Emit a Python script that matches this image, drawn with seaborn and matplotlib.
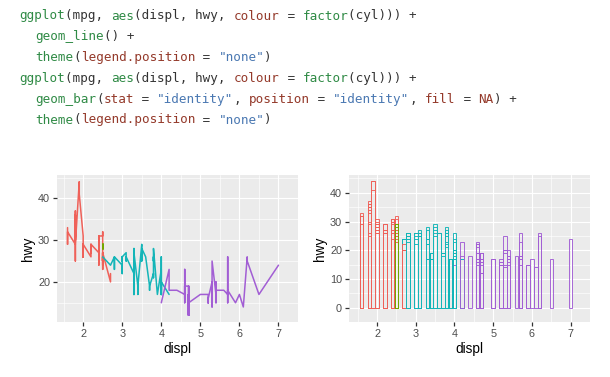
import numpy as np
import pandas as pd
import matplotlib
matplotlib.use("Agg")
import matplotlib.pyplot as plt
import seaborn as sns

# ---- data (ggplot2 mpg: displ, hwy, cyl in dataset order) ----
displ = [1.8, 1.8, 2.0, 2.0, 2.8, 2.8, 3.1, 1.8, 1.8, 2.0, 2.0, 2.8, 2.8, 3.1, 3.1, 2.8, 3.1, 4.2,
         5.3, 5.3, 5.3, 5.7, 6.0, 5.7, 5.7, 6.2, 6.2, 7.0, 5.3, 5.3, 5.7, 6.5, 2.4, 2.4, 3.1, 3.5, 3.6,
         2.4, 3.0, 3.3, 3.3, 3.3, 3.3, 3.3, 3.8, 3.8, 3.8, 4.0, 3.7, 3.7, 3.9, 3.9, 4.7, 4.7, 4.7, 5.2, 5.2,
         3.9, 4.7, 4.7, 4.7, 5.2, 5.7, 5.9, 4.7, 4.7, 4.7, 4.7, 4.7, 4.7, 5.2, 5.2, 5.7, 5.9,
         4.6, 5.4, 5.4, 4.0, 4.0, 4.0, 4.0, 4.6, 5.0, 4.2, 4.2, 4.6, 4.6, 4.6, 5.4, 5.4,
         3.8, 3.8, 4.0, 4.0, 4.6, 4.6, 4.6, 4.6, 5.4,
         1.6, 1.6, 1.6, 1.6, 1.6, 1.8, 1.8, 1.8, 2.0,
         2.4, 2.4, 2.4, 2.4, 2.5, 2.5, 3.3, 2.0, 2.0, 2.0, 2.0, 2.7, 2.7, 2.7,
         3.0, 3.7, 4.0, 4.7, 4.7, 4.7, 5.7, 6.1, 4.0, 4.2, 4.4, 4.6, 5.4, 5.4, 5.4, 4.0, 4.0, 4.6, 5.0,
         2.4, 2.4, 2.5, 2.5, 3.5, 3.5, 3.0, 3.0, 3.5, 3.3, 3.3, 4.0, 5.6, 3.1, 3.8, 3.8, 3.8, 5.3,
         2.5, 2.5, 2.5, 2.5, 2.5, 2.5, 2.2, 2.2, 2.5, 2.5, 2.5, 2.5, 2.5, 2.5,
         2.7, 2.7, 3.4, 3.4, 4.0, 4.7, 2.2, 2.2, 2.4, 2.4, 3.0, 3.0, 3.5, 2.2, 2.2, 2.4, 2.4, 3.0, 3.0, 3.3,
         1.8, 1.8, 1.8, 1.8, 1.8, 4.7, 5.7, 2.7, 2.7, 2.7, 3.4, 3.4, 4.0, 4.0,
         2.0, 2.0, 2.0, 2.0, 2.8, 1.9, 2.0, 2.0, 2.0, 2.0, 2.5, 2.5, 2.8, 2.8,
         1.9, 1.9, 2.0, 2.0, 2.5, 2.5, 1.8, 1.8, 2.0, 2.0, 2.8, 2.8, 3.6]
hwy = [29, 29, 31, 30, 26, 26, 27, 26, 25, 28, 27, 25, 25, 25, 25, 24, 25, 23,
       20, 15, 20, 17, 17, 26, 23, 26, 25, 24, 19, 14, 15, 17, 27, 30, 26, 29, 26,
       24, 24, 22, 22, 24, 24, 17, 22, 21, 23, 23, 19, 18, 17, 17, 19, 19, 12, 17, 15,
       17, 17, 12, 17, 16, 18, 15, 16, 12, 17, 17, 16, 12, 15, 16, 17, 15,
       17, 17, 18, 17, 19, 17, 19, 19, 17, 17, 17, 16, 16, 17, 15, 17,
       26, 25, 26, 24, 21, 22, 23, 22, 20,
       33, 32, 32, 29, 32, 34, 36, 36, 29,
       26, 27, 30, 31, 26, 26, 28, 26, 29, 28, 27, 24, 24, 24,
       22, 19, 20, 17, 12, 19, 18, 14, 15, 18, 18, 15, 17, 16, 18, 17, 19, 19, 17,
       29, 27, 31, 32, 27, 26, 26, 25, 25, 17, 17, 20, 18, 26, 26, 27, 28, 25,
       25, 24, 27, 25, 26, 23, 26, 26, 26, 25, 27, 25, 27, 27,
       20, 20, 19, 17, 20, 17, 29, 27, 31, 31, 26, 26, 28, 27, 29, 31, 31, 26, 26, 27,
       30, 33, 35, 37, 35, 15, 18, 20, 20, 22, 17, 19, 18, 20,
       29, 26, 29, 29, 24, 44, 29, 26, 29, 29, 29, 29, 23, 24,
       44, 41, 29, 26, 28, 29, 29, 29, 28, 29, 26, 26, 26]
cyl = [4, 4, 4, 4, 6, 6, 6, 4, 4, 4, 4, 6, 6, 6, 6, 6, 6, 8,
       8, 8, 8, 8, 8, 8, 8, 8, 8, 8, 8, 8, 8, 8, 4, 4, 6, 6, 6,
       4, 6, 6, 6, 6, 6, 6, 6, 6, 6, 6, 6, 6, 6, 6, 8, 8, 8, 8, 8,
       6, 8, 8, 8, 8, 8, 8, 8, 8, 8, 8, 8, 8, 8, 8, 8, 8,
       8, 8, 8, 6, 6, 6, 6, 8, 8, 6, 6, 8, 8, 8, 8, 8,
       6, 6, 6, 6, 8, 8, 8, 8, 8,
       4, 4, 4, 4, 4, 4, 4, 4, 4,
       4, 4, 4, 4, 6, 6, 6, 4, 4, 4, 4, 6, 6, 6,
       6, 6, 6, 8, 8, 8, 8, 8, 8, 8, 8, 8, 8, 8, 8, 6, 6, 8, 8,
       4, 4, 4, 4, 6, 6, 6, 6, 6, 6, 6, 6, 8, 6, 6, 6, 6, 8,
       4, 4, 4, 4, 4, 4, 4, 4, 4, 4, 4, 4, 4, 4,
       4, 4, 6, 6, 6, 8, 4, 4, 4, 4, 6, 6, 6, 4, 4, 4, 4, 6, 6, 6,
       4, 4, 4, 4, 4, 8, 8, 4, 4, 4, 6, 6, 6, 6,
       4, 4, 4, 4, 6, 4, 4, 4, 4, 4, 5, 5, 6, 6,
       4, 4, 4, 4, 5, 5, 4, 4, 4, 4, 6, 6, 6]

cyl_levels = ["4", "5", "6", "8"]
cyl_colors = ["#EF6159", "#74A600", "#14B5B8", "#A25ED4"]

x_ticks_left = [2, 3, 4, 5, 6, 7]
y_ticks_left = [20, 30, 40]
x_ticks_right = [2, 3, 4, 5, 6, 7]
y_ticks_right = [0, 10, 20, 30, 40]

code_lines = [
    [("ggplot", "g"), ("(mpg, ", "d"), ("aes", "g"), ("(displ, hwy, ", "d"), ("colour", "b"),
     (" = ", "d"), ("factor", "g"), ("(cyl))) +", "d")],
    [("  ", "d"), ("geom_line", "g"), ("() +", "d")],
    [("  ", "d"), ("theme", "g"), ("(", "d"), ("legend.position", "b"), (" = ", "d"),
     ('"none"', "s"), (")", "d")],
    [("ggplot", "g"), ("(mpg, ", "d"), ("aes", "g"), ("(displ, hwy, ", "d"), ("colour", "b"),
     (" = ", "d"), ("factor", "g"), ("(cyl))) +", "d")],
    [("  ", "d"), ("geom_bar", "g"), ("(", "d"), ("stat", "b"), (" = ", "d"), ('"identity"', "s"),
     (", ", "d"), ("position", "b"), (" = ", "d"), ('"identity"', "s"), (", ", "d"),
     ("fill", "b"), (" = ", "d"), ("NA", "b"), (") +", "d")],
    [("  ", "d"), ("theme", "g"), ("(", "d"), ("legend.position", "b"), (" = ", "d"),
     ('"none"', "s"), (")", "d")],
]
code_colors = {"g": "#2F8A45", "d": "#333333", "b": "#94392A", "s": "#4A78B2"}

# ---- figure ----
sns.set_theme(style="darkgrid")
plt.rcParams["font.family"] = ["Liberation Sans", "DejaVu Sans"]

W, H = 610, 377
fig = plt.figure(figsize=(W / 100, H / 100), dpi=100)
fig.patch.set_facecolor("white")

# code text (monospace grid)
char_w = 7.65
x0, base0, dy = 19.5, 19.5, 20.8
for i, line in enumerate(code_lines):
    col = 0
    for tok, c in line:
        if tok.strip():
            fig.text((x0 + col * char_w) / W, 1 - (base0 + i * dy) / H, tok,
                     family="DejaVu Sans Mono", fontsize=9.1, color=code_colors[c],
                     ha="left", va="baseline")
        col += len(tok)


def px_axes(l, t, r, b):
    return fig.add_axes([l / W, 1 - b / H, (r - l) / W, (b - t) / H])


def style(ax, xt, yt, xlim, ylim):
    ax.set_facecolor("#EBEBEB")
    ax.set_xlim(*xlim)
    ax.set_ylim(*ylim)
    ax.set_xticks(xt)
    ax.set_yticks(yt)
    ax.set_xticks([v + 0.5 for v in [xt[0] - 1] + xt], minor=True)
    ax.set_yticks([v + 5 for v in [yt[0] - 10] + yt], minor=True)
    ax.grid(which="major", color="white", linewidth=0.85)
    ax.grid(which="minor", color="white", linewidth=0.45)
    ax.set_axisbelow(True)
    for s in ax.spines.values():
        s.set_visible(False)
    ax.tick_params(which="major", length=2.75, width=0.9, color="#333333",
                   labelsize=7.8, labelcolor="#4D4D4D", pad=2.2,
                   bottom=True, left=True)
    ax.tick_params(which="minor", length=0)
    ax.set_xlabel("displ", fontsize=9.8, color="black", labelpad=2.5)
    ax.set_ylabel("hwy", fontsize=9.8, color="black", labelpad=2.5)


df = pd.DataFrame({"displ": displ, "hwy": hwy, "cyl": [str(c) for c in cyl]})
palette = dict(zip(cyl_levels, cyl_colors))

# left: geom_line (ggplot sorts by x, keeping original order for ties)
ax1 = px_axes(57, 175, 298, 322)
df_line = df.sort_values("displ", kind="mergesort")
sns.lineplot(data=df_line, x="displ", y="hwy", hue="cyl", hue_order=cyl_levels,
             palette=palette, estimator=None, sort=False, legend=False,
             linewidth=1.1, ax=ax1)
style(ax1, x_ticks_left, y_ticks_left, (1.33, 7.27), (10.4, 45.6))

# right: geom_bar(stat="identity", position="identity", fill=NA)
ax2 = px_axes(349, 175, 590, 322)
ax2.bar(df["displ"], df["hwy"], width=0.09, fill=False,
        edgecolor=[palette[c] for c in df["cyl"]], linewidth=0.65)
style(ax2, x_ticks_right, y_ticks_right, (1.275, 7.32), (-2.2, 46.2))

fig.savefig("out.png", dpi=100, facecolor="white")
